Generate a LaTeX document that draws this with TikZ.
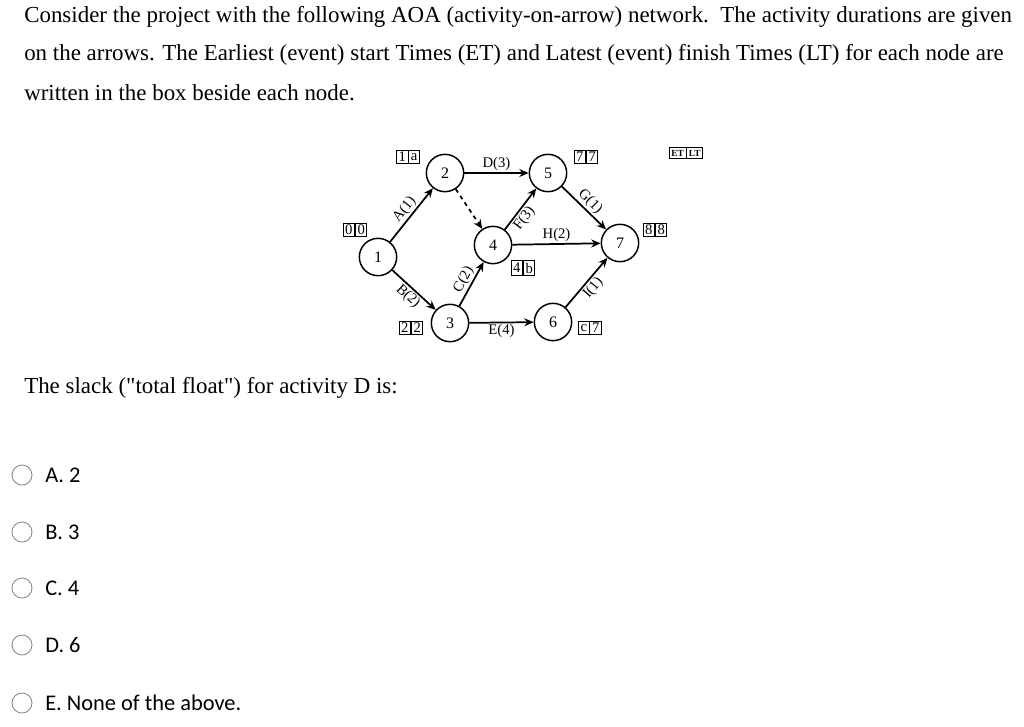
\documentclass[tikz,border=0pt]{standalone}
\usepackage{fontspec}
\setmainfont{Liberation Serif}[Ligatures=TeXOff]
\newfontfamily\optfont{Carlito}
\usetikzlibrary{shapes.multipart,arrows.meta}
\begin{document}
\begin{tikzpicture}[x=0.75pt,y=-0.75pt,
  ev/.style={circle,draw,line width=1.1pt,minimum size=28pt,inner sep=0pt,font=\fontsize{12}{12}\selectfont,fill=white},
  etlt/.style={rectangle split,rectangle split horizontal,rectangle split parts=2,draw,line width=0.8pt,inner sep=1.5pt,font=\fontsize{11}{11}\selectfont,fill=white},
  act/.style={-{Stealth[length=7pt,width=6pt]},line width=1.3pt},
  lab/.style={font=\fontsize{11}{11}\selectfont,inner sep=1pt},
  txt/.style={anchor=west,font=\fontsize{17.2}{17.2}\selectfont,inner sep=0pt},
  opt/.style={anchor=west,font=\optfont\fontsize{16.8}{16.8}\selectfont,inner sep=0pt},
  radio/.style={circle,draw=gray,line width=0.6pt,minimum size=15pt,inner sep=0pt}]
\useasboundingbox (0,0) rectangle (1024,726);
\node[txt] (t1) at (24,17) {Consider the project with the following AOA (activity-on-arrow) network.\ \ The activity durations are given};
\node[txt] (t2) at (24,55) {on the arrows. The Earliest (event) start Times (ET) and Latest (event) finish Times (LT) for each node are};
\node[txt] (t3) at (24,93) {written in the box beside each node.};
\node[txt] (q) at (24,388) {The slack ("total float") for activity D is:};
\foreach \y/\t [count=\i] in {475/A. 2,532/B. 3,588/C. 4,645/D. 6,703/E. None of the above.}{
  \node[radio] (r\i) at (22,\y) {};
  \node[opt] (o\i) at (45,\y) {\t};
}
\node[ev] (n1) at (378,257) {1};
\node[ev] (n2) at (445,173) {2};
\node[ev] (n5) at (548,173) {5};
\node[ev] (n4) at (493,245) {4};
\node[ev] (n7) at (620,243) {7};
\node[ev] (n3) at (450,323) {3};
\node[ev] (n6) at (553,322) {6};
\draw[act] (n1) -- node[lab,sloped,above] {A(1)} (n2);
\draw[act] (n1) -- node[lab,sloped,below] {B(2)} (n3);
\draw[act] (n2) -- node[lab,above] {D(3)} (n5);
\draw[act,dashed] (n2) -- (n4);
\draw[act] (n3) -- node[lab,sloped,above] {C(2)} (n4);
\draw[act] (n3) -- node[lab,below] {E(4)} (n6);
\draw[act] (n4) -- node[lab,sloped,below,pos=0.4] {F(3)} (n5);
\draw[act] (n4) -- node[lab,above] {H(2)} (n7);
\draw[act] (n5) -- node[lab,sloped,above] {G(1)} (n7);
\draw[act] (n6) -- node[lab,sloped,below] {I(1)} (n7);
\node[etlt] (b1) at (355,230) {0\nodepart{two}0};
\node[etlt] (b2) at (408,157) {1\nodepart{two}a};
\node[etlt] (b5) at (586,157) {7\nodepart{two}7};
\node[etlt] (b7) at (655,230) {8\nodepart{two}8};
\node[etlt] (b4) at (523,268) {4\nodepart{two}b};
\node[etlt] (b3) at (411,328) {2\nodepart{two}2};
\node[etlt] (b6) at (590,328) {c\nodepart{two}7};
\node[etlt,font=\fontsize{7}{7}\selectfont\bfseries] (bk) at (686,153) {ET\nodepart{two}LT};
\end{tikzpicture}
\end{document}
